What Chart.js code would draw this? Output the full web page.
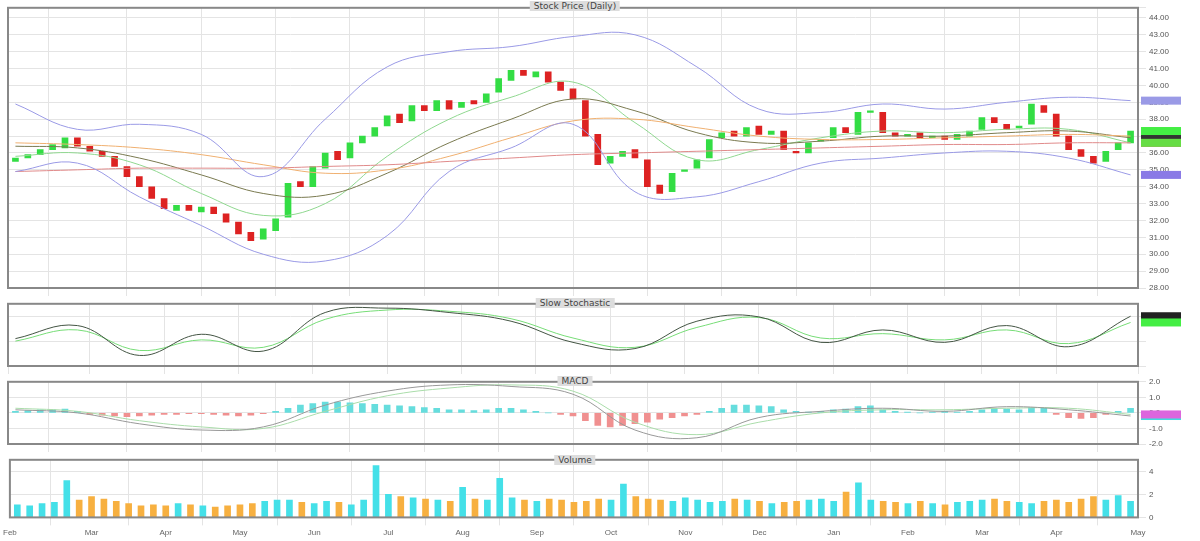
<!DOCTYPE html>
<html><head><meta charset="utf-8">
<script src="https://cdn.jsdelivr.net/npm/chart.js@4"></script>
<style>
body{margin:0;background:#fff;font-family:"DejaVu Sans",sans-serif;}
.p{position:absolute;left:0;width:1200px;}
.t{position:absolute;font-size:9px;color:#444;background:#ddd;padding:0 4px;transform:translateX(-50%);}
</style></head><body>
<div class="p" style="top:0;height:296px"><canvas id="c1"></canvas></div>
<div class="p" style="top:296px;height:78px"><canvas id="c2"></canvas></div>
<div class="p" style="top:374px;height:78px"><canvas id="c3"></canvas></div>
<div class="p" style="top:452px;height:89px"><canvas id="c4"></canvas></div>
<div class="t" style="left:575px;top:1px">Stock Price (Daily)</div>
<div class="t" style="left:575px;top:298px">Slow Stochastic</div>
<div class="t" style="left:575px;top:376px">MACD</div>
<div class="t" style="left:575px;top:455px">Volume</div>
<script>
const closes=[35.7,35.9,36.2,36.5,36.9,36.4,36.1,35.8,35.2,34.6,34.0,33.3,32.7,32.9,32.6,32.8,32.4,31.9,31.2,30.8,31.5,32.1,34.2,34.0,35.2,36.0,35.6,36.6,37.0,37.5,38.2,37.8,38.8,38.5,39.1,38.6,39.0,38.9,39.5,40.4,40.9,40.6,40.8,40.2,39.7,39.2,37.0,35.3,35.8,36.1,35.7,34.0,33.6,34.8,35.0,35.6,36.8,37.2,37.0,37.5,37.1,37.3,36.2,36.0,36.6,36.8,37.5,37.2,38.4,38.5,37.2,37.0,37.1,36.9,37.0,36.8,37.1,37.3,38.1,37.8,37.4,37.6,38.9,38.4,37.0,36.2,35.8,35.4,36.1,36.6,37.3];
const opens=[35.5,35.7,35.9,36.2,36.3,36.9,36.4,36.1,35.8,35.2,34.6,34.0,33.3,32.6,32.9,32.5,32.8,32.4,31.9,31.3,30.9,31.4,32.2,34.3,34.0,35.1,36.1,35.7,36.6,37.0,37.6,38.3,37.9,38.8,38.5,39.1,38.7,39.1,39.0,39.6,40.3,40.9,40.5,40.8,40.2,39.8,39.1,37.1,35.4,35.8,36.2,35.6,34.1,33.7,34.9,35.1,35.7,36.9,37.3,37.0,37.6,37.1,37.3,36.1,36.0,36.7,36.9,37.5,37.1,38.4,38.4,37.2,37.0,37.2,36.9,37.0,36.8,37.0,37.4,38.1,37.7,37.5,37.7,38.8,38.3,37.0,36.2,35.8,35.5,36.2,36.6];
const volumes=[1.1,1.0,1.2,1.3,3.2,1.5,1.8,1.6,1.4,1.2,1.0,1.1,1.0,1.2,1.1,1.0,0.9,1.0,1.1,1.2,1.4,1.5,1.5,1.3,1.2,1.4,1.3,1.1,1.5,4.5,2.0,1.8,1.7,1.6,1.5,1.4,2.6,1.6,1.5,3.4,1.7,1.5,1.4,1.6,1.5,1.3,1.4,1.6,1.5,2.9,1.8,1.6,1.5,1.4,1.7,1.5,1.3,1.4,1.6,1.5,1.4,1.2,1.3,1.4,1.5,1.6,1.4,2.2,3.0,1.5,1.4,1.3,1.2,1.4,1.2,1.1,1.3,1.4,1.5,1.6,1.4,1.3,1.2,1.4,1.5,1.3,1.6,1.8,1.5,1.9,1.4];
const macdHist=[0.1,0.15,0.2,0.2,0.25,0.1,-0.1,-0.15,-0.2,-0.25,-0.2,-0.15,-0.1,-0.1,-0.05,-0.05,-0.1,-0.15,-0.2,-0.15,-0.05,0.1,0.3,0.5,0.6,0.7,0.7,0.65,0.6,0.55,0.5,0.45,0.4,0.35,0.3,0.2,0.2,0.15,0.2,0.3,0.3,0.2,0.1,0,-0.1,-0.2,-0.5,-0.8,-0.9,-0.8,-0.7,-0.6,-0.4,-0.3,-0.2,-0.1,0.1,0.3,0.5,0.5,0.45,0.4,0.2,0.1,0.05,0.1,0.2,0.25,0.4,0.45,0.2,0.1,0.05,0,0.05,0.1,0.05,0.1,0.2,0.3,0.25,0.2,0.35,0.3,-0.1,-0.3,-0.35,-0.3,-0.1,0.1,0.3];
// line series sampled every 5 candles
const bbUpper=[38.9,37.4,37.7,37.1,34.6,38.0,41.1,42.0,42.3,42.9,43.0,41.1,38.6,38.4,38.9,38.6,39.0,39.3,39.1];
const bbLower=[34.9,35.4,33.4,31.7,30.0,29.6,31.1,34.9,36.3,37.7,33.7,33.4,34.3,35.4,35.7,36.0,36.1,35.7,34.7];
const ma20=[35.8,36.0,35.3,33.6,32.3,33.0,35.8,38.0,39.3,40.2,37.8,35.6,36.2,36.9,37.3,37.2,37.4,37.4,36.6];
const ma50=[36.4,36.3,35.7,34.7,33.6,33.5,34.8,36.6,38.0,39.2,38.5,37.2,36.6,36.7,37.0,37.0,37.2,37.3,36.9];
const ma100=[36.6,36.5,36.3,35.9,35.3,34.8,35.0,35.8,36.9,37.9,38.0,37.5,37.0,36.8,36.8,36.9,37.0,37.1,37.0];
const ma200=[34.9,35.0,35.1,35.1,35.1,35.2,35.3,35.5,35.7,35.9,36.0,36.1,36.2,36.3,36.4,36.5,36.5,36.6,36.6];
const stochK=[44,65,17,51,24,86,93,86,72,38,28,72,79,38,58,38,65,31,80];
const stochD=[40,58,25,42,30,75,90,88,76,45,30,62,78,45,52,42,58,36,70];
const macdLine=[0.2,0.0,-0.7,-1.1,-0.9,0.5,1.4,1.8,1.7,1.2,-1.1,-1.6,-0.3,0.1,0.3,0.1,0.4,0.2,-0.2];
const macdSignal=[0.3,0.1,-0.5,-0.9,-1.0,0.1,1.1,1.6,1.8,1.4,-0.6,-1.4,-0.6,0.0,0.2,0.2,0.3,0.3,-0.1];
const dateLabels=["Feb","Mar","Apr","May","Jun","Jul","Aug","Sep","Oct","Nov","Dec","Jan","Feb","Mar","Apr","May"];

const N=closes.length, XMAX=N-0.4;
const up=i=>closes[i]>=opens[i];
const pts=a=>a.map((v,k)=>({x:k*5,y:v}));
const grid={color:'#e4e4e4'};
const fitR=s=>{s.width=58;};
const xBase=(show)=>({type:'linear',min:-0.6,max:XMAX,offset:false,grid,border:{color:'#999'},
  ticks:{display:show,stepSize:6,font:{size:8},color:'#666',maxRotation:0,
  callback:(v,i)=>dateLabels[i]||''}});
const yOpt=(min,max,step,cb)=>({position:'right',min,max,afterFit:fitR,grid,border:{color:'#999'},
  ticks:{stepSize:step,font:{size:8},color:'#555',callback:cb}});
const base={responsive:true,maintainAspectRatio:false,animation:false,
  layout:{padding:{left:8,top:0,right:4}},plugins:{legend:{display:false},tooltip:{enabled:false}}};
const frame={id:'frame',afterDraw(c){const a=c.chartArea,x=c.ctx;x.save();x.strokeStyle='#888';x.lineWidth=2;x.strokeRect(a.left,a.top,a.right-a.left,a.bottom-a.top);x.restore();}};
const tags={id:'tags',afterDatasetsDraw(c){const x=c.ctx,ys=c.scales.y,a=c.chartArea;
  c.data.datasets.forEach(d=>{if(!d.tag)return;const last=d.data[d.data.length-1];const v=typeof last==='object'?(Array.isArray(last.y)?last.y[1]:last.y):last;
  const py=ys.getPixelForValue(v);x.fillStyle=d.tag;x.fillRect(a.right+3,py-4,40,8);});}};

new Chart(document.getElementById('c1'),{type:'bar',plugins:[frame,tags],data:{datasets:[
 {type:'line',data:pts(bbUpper),borderColor:'#9a9ae6',borderWidth:1,pointRadius:0,tension:0.4,tag:'#9a9ae6'},
 {type:'line',data:pts(bbLower),borderColor:'#9a9ae6',borderWidth:1,pointRadius:0,tension:0.4,tag:'#8a7ae6'},
 {type:'line',data:pts(ma200),borderColor:'#e08a8a',borderWidth:1,pointRadius:0,tension:0.4,tag:'#ff5577'},
 {type:'line',data:pts(ma100),borderColor:'#f0b070',borderWidth:1,pointRadius:0,tension:0.4,tag:'#ffb060'},
 {type:'line',data:pts(ma50),borderColor:'#7a7a50',borderWidth:1,pointRadius:0,tension:0.4,tag:'#333333'},
 {type:'line',data:pts(ma20),borderColor:'#90d890',borderWidth:1,pointRadius:0,tension:0.4,tag:'#66dd44'},
 {data:closes.map((c,i)=>({x:i,y:[opens[i],c]})),barThickness:6,minBarLength:1,
  backgroundColor:closes.map((c,i)=>up(i)?'#33dd44':'#dd2222'),tag:'#44ee44'}
]},options:{...base,scales:{x:xBase(false),y:yOpt(28,44.6,1,v=>Number.isInteger(v)?v.toFixed(2):'')}}});

new Chart(document.getElementById('c2'),{type:'line',plugins:[frame,tags],data:{datasets:[
 {data:pts(stochK),borderColor:'#445544',borderWidth:1,pointRadius:0,tension:0.4,tag:'#222'},
 {data:pts(stochD),borderColor:'#77dd77',borderWidth:1,pointRadius:0,tension:0.4,tag:'#44ee44'}
]},options:{...base,layout:{padding:{left:8,top:3,right:4}},scales:{x:xBase(false),y:yOpt(0,100,20,v=>(v==20||v==80)?v:'')}}});

new Chart(document.getElementById('c3'),{type:'bar',plugins:[frame,tags],data:{datasets:[
 {type:'line',data:pts(macdLine),borderColor:'#999',borderWidth:1,pointRadius:0,tension:0.4,tag:'#44dddd'},
 {type:'line',data:pts(macdSignal),borderColor:'#aaddaa',borderWidth:1,pointRadius:0,tension:0.4,tag:'#dd66dd'},
 {data:macdHist.map((v,i)=>({x:i,y:v})),barThickness:6,backgroundColor:macdHist.map(v=>v>=0?'#66dddd':'#f09090')}
]},options:{...base,layout:{padding:{left:8,top:3,right:4}},scales:{x:xBase(false),y:yOpt(-2,2,1,v=>v.toFixed(1))}}});

new Chart(document.getElementById('c4'),{type:'bar',plugins:[frame],data:{datasets:[
 {data:volumes.map((v,i)=>({x:i,y:v})),barThickness:6,backgroundColor:volumes.map((v,i)=>up(i)?'#44e0e8':'#f7b040')}
]},options:{...base,layout:{padding:{left:8,top:3,right:4}},scales:{x:xBase(true),y:yOpt(0,5,1,v=>v)}}});
</script></body></html>
